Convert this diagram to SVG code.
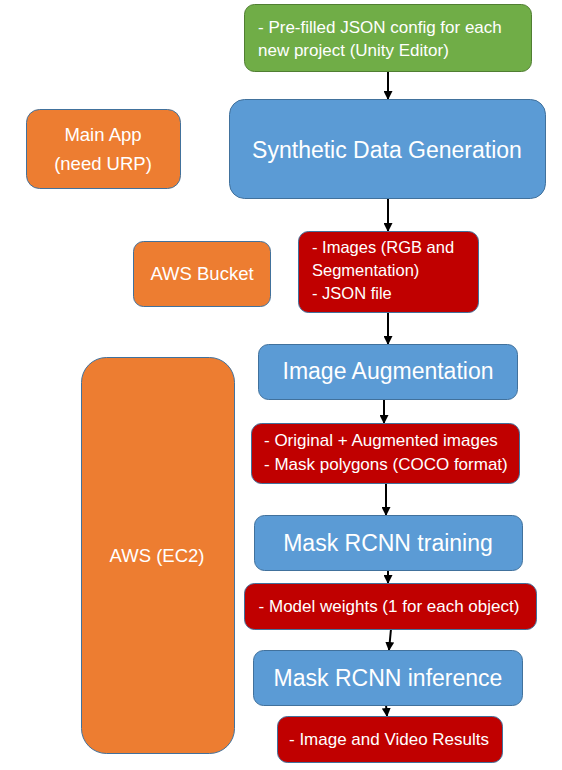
<svg xmlns="http://www.w3.org/2000/svg" width="562" height="770" viewBox="0 0 562 770">
<defs>
<marker id="ah" markerWidth="9" markerHeight="9" refX="8" refY="4.5" orient="auto" markerUnits="userSpaceOnUse">
<path d="M0,0 L9,4.5 L0,9 Z" fill="#000"/>
</marker>
<style>
text{font-family:"Liberation Sans",Arial,sans-serif;fill:#fff}
.green{fill:#70AD47;stroke:#507E32;stroke-width:1}
.blue{fill:#5B9BD5;stroke:#41719C;stroke-width:1}
.orange{fill:#ED7D31;stroke:#41719C;stroke-width:1}
.red{fill:#C00000;stroke:#41719C;stroke-width:1}
.conn{stroke:#000;stroke-width:2;fill:none;marker-end:url(#ah)}
.big{font-size:23px}
.mid{font-size:18.5px}
.sm{font-size:17px}
</style>
</defs>
<g id="connectors">
<line class="conn" x1="388" y1="71" x2="388" y2="99"/>
<line class="conn" x1="388" y1="198" x2="388" y2="231"/>
<line class="conn" x1="388" y1="312" x2="388" y2="344"/>
<line class="conn" x1="384" y1="399" x2="384" y2="423"/>
<line class="conn" x1="386" y1="483" x2="386" y2="515"/>
<line class="conn" x1="388" y1="570" x2="388" y2="583"/>
<line class="conn" x1="391" y1="629" x2="389" y2="650"/>
<line class="conn" x1="386" y1="705" x2="387" y2="716"/>
</g>
<g id="config">
<rect class="green" x="244.5" y="4.5" width="287" height="67" rx="10"/>
<text class="sm" x="258" y="33">- Pre-filled JSON config for each</text>
<text class="sm" x="258" y="56">new project (Unity Editor)</text>
</g>
<g id="synth">
<rect class="blue" x="229.5" y="99.5" width="316" height="99" rx="15"/>
<text class="big" x="387" y="158" text-anchor="middle">Synthetic Data Generation</text>
</g>
<g id="mainapp">
<rect class="orange" x="26.5" y="109.5" width="154" height="79" rx="13"/>
<text class="mid" x="103" y="141" text-anchor="middle">Main App</text>
<text class="mid" x="103" y="170" text-anchor="middle">(need URP)</text>
</g>
<g id="images">
<rect class="red" x="298.5" y="231.5" width="180" height="81" rx="10"/>
<text class="sm" x="312" y="253" style="font-size:16.5px">- Images (RGB and</text>
<text class="sm" x="312" y="276" style="font-size:16.5px">Segmentation)</text>
<text class="sm" x="312" y="299" style="font-size:16.5px">- JSON file</text>
</g>
<g id="bucket">
<rect class="orange" x="133.5" y="241.5" width="137" height="65" rx="10"/>
<text class="mid" x="202" y="280" text-anchor="middle">AWS Bucket</text>
</g>
<g id="augment">
<rect class="blue" x="258.5" y="344.5" width="259" height="55" rx="10"/>
<text class="big" x="388" y="379" text-anchor="middle">Image Augmentation</text>
</g>
<g id="ec2">
<rect class="orange" x="81.5" y="357.5" width="153" height="396" rx="25"/>
<text class="mid" x="157" y="562" text-anchor="middle">AWS (EC2)</text>
</g>
<g id="augimages">
<rect class="red" x="251.5" y="423.5" width="268" height="60" rx="10"/>
<text class="sm" x="264" y="446">- Original + Augmented images</text>
<text class="sm" x="264" y="470">- Mask polygons (COCO format)</text>
</g>
<g id="training">
<rect class="blue" x="254.5" y="515.5" width="268" height="55" rx="10"/>
<text class="big" x="388" y="551" text-anchor="middle">Mask RCNN training</text>
</g>
<g id="weights">
<rect class="red" x="244.5" y="583.5" width="292" height="46" rx="10"/>
<text class="sm" x="389" y="612" text-anchor="middle">- Model weights (1 for each object)</text>
</g>
<g id="inference">
<rect class="blue" x="253.5" y="650.5" width="269" height="55" rx="10"/>
<text class="big" x="388" y="686" text-anchor="middle">Mask RCNN inference</text>
</g>
<g id="results">
<rect class="red" x="277.5" y="716.5" width="225" height="46" rx="10"/>
<text class="sm" x="289" y="745">- Image and Video Results</text>
</g>
</svg>
